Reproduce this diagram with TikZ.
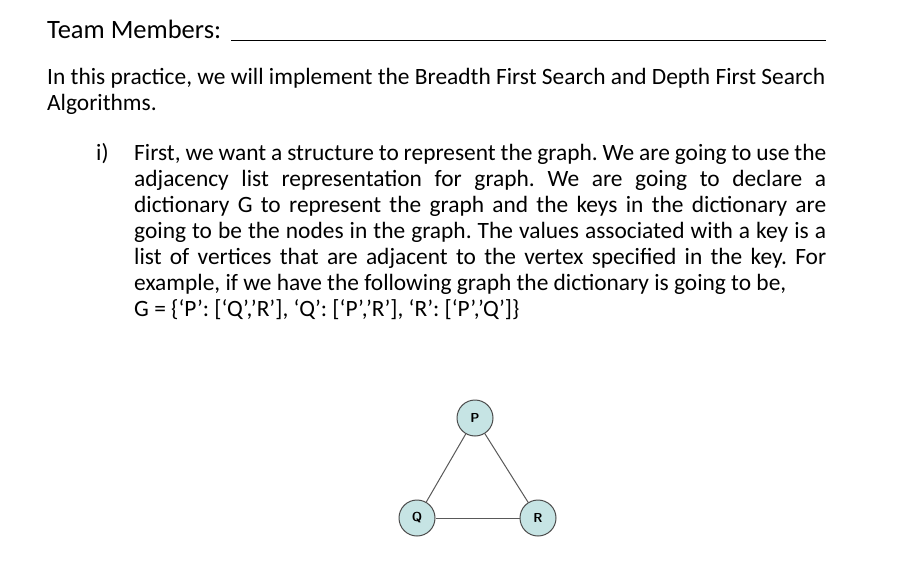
\documentclass[tikz,border=0pt]{standalone}
\usepackage{fontspec}
\setmainfont{Carlito}
\definecolor{vfill}{HTML}{C6E4E4}
\begin{document}
\frenchspacing
\begin{tikzpicture}[x=1pt,y=-1pt,
 txt/.style={anchor=base west,inner sep=0pt,font=\fontsize{23.4}{26}\selectfont},
 vert/.style={circle,draw=black!70,line width=1pt,fill=vfill,minimum size=36pt,inner sep=0pt,font=\sffamily\bfseries\fontsize{13}{14}\selectfont},
 edge/.style={draw=black!65,line width=1pt}]
\useasboundingbox (0,0) rectangle (906,565);
\fill[white] (0,0) rectangle (906,565);
\node[txt,font=\fontsize{26.5}{28}\selectfont] (t0) at (47,38) {Team Members:};
\coordinate (u1) at (231,40); \coordinate (u2) at (826,40);
\draw[line width=0.8pt] (u1) -- (u2);
\node[txt] (t1) at (47,84) {In this practice, we will implement the Breadth First Search and Depth First Search};
\node[txt] (t2) at (47,110) {Algorithms.};
\node[txt] (i) at (96,160) {i)};
\node[txt] (l1) at (134,160) {\makebox[692pt][s]{First, we want a structure to represent the graph. We are going to use the}};
\node[txt] (l2) at (134,186) {\makebox[692pt][s]{adjacency list representation for graph. We are going to declare a}};
\node[txt] (l3) at (134,212) {\makebox[692pt][s]{dictionary G to represent the graph and the keys in the dictionary are}};
\node[txt] (l4) at (134,238) {\makebox[692pt][s]{going to be the nodes in the graph. The values associated with a key is a}};
\node[txt] (l5) at (134,264) {\makebox[692pt][s]{list of vertices that are adjacent to the vertex specified in the key. For}};
\node[txt] (l6) at (134,290) {example, if we have the following graph the dictionary is going to be,};
\node[txt] (l7) at (134,316) {G = \{‘P’: [‘Q’,’R’], ‘Q’: [‘P’,’R’], ‘R’: [‘P’,’Q’]\}};
\node[vert] (P) at (475,418) {P};
\node[vert] (Q) at (417,518) {Q};
\node[vert] (R) at (538,518) {R};
\draw[edge] (P) -- (Q);
\draw[edge] (P) -- (R);
\draw[edge] (Q) -- (R);
\end{tikzpicture}
\end{document}
